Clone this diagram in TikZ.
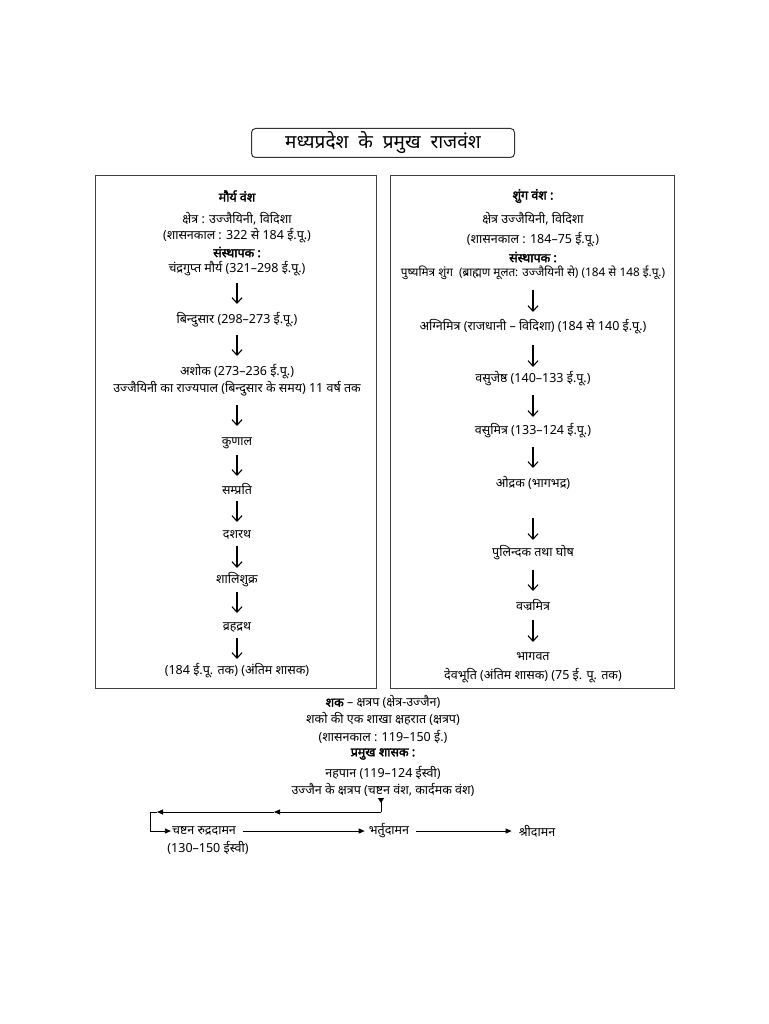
\documentclass[tikz,border=0pt]{standalone}
\usepackage{fontspec}
\setmainfont[Script=Devanagari, AutoFakeBold=2.5]{Noto Sans}
\usetikzlibrary{arrows.meta,calc}
\begin{document}
\begin{tikzpicture}[x=1pt,y=-1pt,
  every node/.style={inner sep=1pt, text=black, font=\fontsize{12.5}{14}\selectfont},
  hd/.style={font=\fontsize{12.5}{14}\selectfont\bfseries},
  narrow/.style={font=\fontsize{11.8}{14}\selectfont},
  ttl/.style={draw=black!80, line width=1pt, rounded corners=4pt, minimum width=263pt, minimum height=29pt, inner sep=0pt, font=\fontsize{19}{20}\selectfont},
  panel/.style={draw=black!75, line width=1pt},
  dn/.style={draw=black, line width=1.1pt, -{Straight Barb[length=5.5pt,width=10pt,line width=1.1pt]}},
  tri/.style={draw=black, line width=0.8pt, -{Triangle[length=6pt,width=5pt]}},
  ln/.style={draw=black, line width=0.8pt}]
\useasboundingbox (0,0) rectangle (768,1024);
\fill[white] (0,0) rectangle (768,1024);

% title
\node[ttl] (T) at (383,143) {मध्यप्रदेश \ के \ प्रमुख \ राजवंश};

% panels
\draw[panel] (95,176) rectangle (376,688);
\draw[panel] (390,176) rectangle (674,688);

% left column: Maurya
\node[hd] (L0) at (237,196) {मौर्य वंश};
\node (L1) at (237,219) {क्षेत्र : उज्जैयिनी, विदिशा};
\node (L2) at (237,236) {(शासनकाल : 322 से 184 ई.पू.)};
\node[hd] (L3) at (237,252) {संस्थापक :};
\node (L4) at (237,269) {चंद्रगुप्त मौर्य (321–298 ई.पू.)};
\node (L5) at (237,320) {बिन्दुसार (298–273 ई.पू.)};
\node (L6) at (237,372) {अशोक (273–236 ई.पू.)};
\node (L7) at (237,389) {उज्जैयिनी का राज्यपाल (बिन्दुसार के समय) 11 वर्ष तक};
\node (L8) at (237,443) {कुणाल};
\node (L9) at (237,489) {सम्प्रति};
\node (L10) at (237,535) {दशरथ};
\node (L11) at (237,580) {शालिशुक्र};
\node (L12) at (237,627) {व्रहद्रथ};
\node (L13) at (237,671) {(184 ई.पू. तक) (अंतिम शासक)};

\draw[dn] (L4 |- 0,283) -- (L5 |- 0,304);
\draw[dn] (L5 |- 0,335) -- (L6 |- 0,356);
\draw[dn] (L7 |- 0,405) -- (L8 |- 0,426);
\draw[dn] (L8 |- 0,455) -- (L9 |- 0,476);
\draw[dn] (L9 |- 0,501) -- (L10 |- 0,522);
\draw[dn] (L10 |- 0,546) -- (L11 |- 0,568);
\draw[dn] (L11 |- 0,592) -- (L12 |- 0,613);
\draw[dn] (L12 |- 0,638) -- (L13 |- 0,659);

% right column: Shunga
\node[hd] (R0) at (533,196) {शुंग वंश :};
\node (R1) at (533,219) {क्षेत्र उज्जैयिनी, विदिशा};
\node (R2) at (533,240) {(शासनकाल : 184–75 ई.पू.)};
\node[hd] (R3) at (533,257) {संस्थापक :};
\node[narrow] (R4) at (533,273) {पुष्यमित्र शुंग \ (ब्राह्मण मूलत: उज्जैयिनी से) (184 से 148 ई.पू.)};
\node (R5) at (533,327) {अग्निमित्र (राजधानी – विदिशा) (184 से 140 ई.पू.)};
\node (R6) at (533,379) {वसुजेष्ठ (140–133 ई.पू.)};
\node (R7) at (533,431) {वसुमित्र (133–124 ई.पू.)};
\node (R8) at (533,483) {ओद्रक (भागभद्र)};
\node (R9) at (533,553) {पुलिन्दक तथा घोष};
\node (R10) at (533,605) {वज्रमित्र};
\node (R11) at (533,657) {भागवत};
\node (R12) at (533,676) {देवभूति (अंतिम शासक) (75 ई. पू. तक)};

\draw[dn] (R4 |- 0,290) -- (R5 |- 0,312);
\draw[dn] (R5 |- 0,345) -- (R6 |- 0,367);
\draw[dn] (R6 |- 0,395) -- (R7 |- 0,417);
\draw[dn] (R7 |- 0,447) -- (R8 |- 0,468);
\draw[dn] (R8 |- 0,518) -- (R9 |- 0,540);
\draw[dn] (R9 |- 0,570) -- (R10 |- 0,591);
\draw[dn] (R10 |- 0,620) -- (R11 |- 0,642);

% bottom: Shaka
\node (B0) at (383,702) {{\bfseries शक} – क्षत्रप (क्षेत्र-उज्जैन)};
\node (B1) at (383,719) {शको की एक शाखा क्षहरात (क्षत्रप)};
\node (B2) at (383,737) {(शासनकाल : 119–150 ई.)};
\node[hd] (B3) at (383,754) {प्रमुख शासक :};
\node (B4) at (383,773) {नहपान (119–124 ईस्वी)};
\node (B5) at (383,790) {उज्जैन के क्षत्रप (चष्टन वंश, कार्दमक वंश)};

\node (N1) at (204,831) {चष्टन रुद्रदामन};
\node (N1b) at (208,848) {(130–150 ईस्वी)};
\node (N2) at (389,831) {भर्तुदामन};
\node (N3) at (537,831) {श्रीदामन};

\coordinate (c0) at (381,798);
\coordinate (c1) at (381,812);
\coordinate (c2) at (274,812);
\coordinate (c3) at (157,812);
\coordinate (c4) at (150,812);
\coordinate (c5) at (150,831);

\draw[ln, {Triangle[reversed,length=5pt,width=6pt]}-] (c0) -- (c1);
\draw[tri] (c1) -- (c2);
\draw[tri] (c2) -- (c3);
\draw[ln] (c3) -- (c4) -- (c5);
\draw[tri] (c5) -- (N1.west);
\draw[tri, shorten <=6pt, shorten >=3pt] (N1.east) -- (N2.west);
\draw[tri, shorten <=6pt, shorten >=6pt] (N2.east) -- (N3.west);
\end{tikzpicture}
\end{document}
